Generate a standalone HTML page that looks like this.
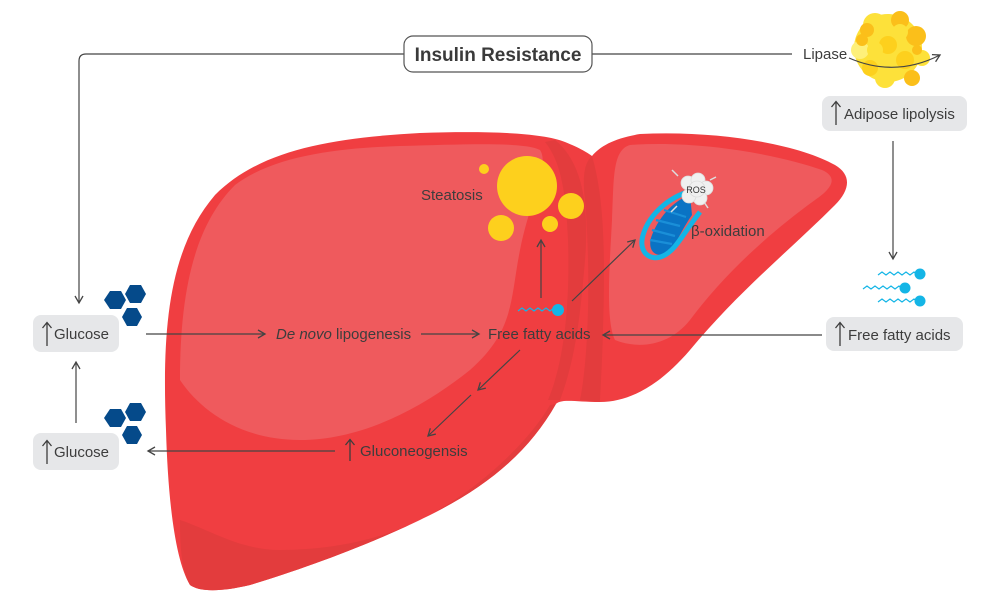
<!DOCTYPE html>
<html><head><meta charset="utf-8"><style>
html,body{margin:0;padding:0;background:#fff;}
svg{display:block;font-family:"Liberation Sans",sans-serif;}
</style></head><body>
<svg width="1000" height="600" viewBox="0 0 1000 600" xmlns="http://www.w3.org/2000/svg">
<defs>
<marker id="a" markerWidth="10" markerHeight="10" refX="8" refY="5" orient="auto" markerUnits="userSpaceOnUse">
<path d="M1,1 L8,5 L1,9" fill="none" stroke="#444" stroke-width="1.3"/></marker>
</defs>
<path d="M190,585 C175,560 168,500 166,430 C162,330 168,250 215,195 C260,150 330,138 420,133 C480,131 540,132 565,142 C580,148 588,153 592,156 C600,146 615,138 640,134 C720,130 800,145 835,165 C852,175 850,190 835,205 C790,250 740,290 690,350 C660,385 630,402 600,402 C575,402 560,398 555,405 C530,450 490,485 430,515 C370,545 300,570 250,585 C220,592 200,592 190,585Z" fill="#f03e41"/>
<path d="M180,520 C210,530 240,550 280,550 C330,550 380,540 420,520 C480,490 530,440 550,405 L556,404 C530,450 490,485 430,515 C370,545 300,570 250,585 C220,592 200,592 190,585 C182,570 180,550 180,520Z" fill="#e33c3d"/>
<path d="M555,140 C580,160 590,200 585,260 C580,320 575,360 560,400 L548,400 C565,360 570,300 568,240 C566,190 560,160 545,142Z" fill="#e33c3d"/>
<path d="M592,156 C605,200 605,260 603,330 C602,370 600,395 600,402 L580,400 C590,350 590,260 585,200 C582,175 585,162 592,156Z" fill="#e33c3d"/>
<path d="M180,380 C180,290 195,225 235,185 C275,155 340,148 400,146 C470,144 525,142 540,150 C550,165 530,200 520,250 C510,300 515,330 470,370 C420,410 360,440 300,440 C240,440 200,410 180,380Z" fill="#ef5a5d"/>
<path d="M630,145 C700,140 780,155 822,170 C840,178 830,190 815,200 C760,240 720,280 690,320 C670,345 640,350 615,340 C605,320 610,260 612,220 C614,180 612,150 630,145Z" fill="#ef5a5d"/>

<circle cx="527" cy="186" r="30" fill="#fdd01d"/>
<circle cx="571" cy="206" r="13" fill="#fdd01d"/>
<circle cx="501" cy="228" r="13" fill="#fdd01d"/>
<circle cx="550" cy="224" r="8" fill="#fdd01d"/>
<circle cx="484" cy="169" r="5" fill="#fdd01d"/>

<path d="M690,195 C675,200 660,215 652,235 C646,250 656,260 668,252 C676,246 680,232 692,215 Z" fill="#0a73c4"/>
<path d="M695,190 C672,195 650,212 643,235 C638,252 650,262 663,256 C676,250 682,235 700,212" fill="none" stroke="#14b5e6" stroke-width="5" stroke-linejoin="round"/>
<g stroke="#1a8fd8" stroke-width="2.2">
<line x1="652" y1="230" x2="675" y2="236"/><line x1="650" y1="240" x2="672" y2="244"/><line x1="656" y1="220" x2="680" y2="226"/><line x1="664" y1="210" x2="686" y2="217"/></g>
<g stroke="#ddd" stroke-width="1.5">
<line x1="672" y1="170" x2="678" y2="176"/><line x1="710" y1="180" x2="716" y2="177"/><line x1="704" y1="202" x2="708" y2="208"/><line x1="677" y1="206" x2="671" y2="212"/></g>
<g fill="#f0f0f0" stroke="#ddd" stroke-width="0.8">
<circle cx="688" cy="183" r="7"/><circle cx="698" cy="180" r="7"/><circle cx="706" cy="188" r="7"/><circle cx="700" cy="198" r="7"/><circle cx="689" cy="196" r="7"/><circle cx="697" cy="189" r="8"/></g>
<text x="696" y="193" font-size="9" fill="#333" text-anchor="middle">ROS</text>

<g>
<circle cx="888" cy="48" r="34" fill="#fde13a"/>
<circle cx="875" cy="25" r="12" fill="#fde13a"/><circle cx="900" cy="20" r="9" fill="#fbbf1a"/><circle cx="916" cy="36" r="10" fill="#fbbf1a"/>
<circle cx="867" cy="30" r="7" fill="#fbbf1a"/><circle cx="860" cy="50" r="9" fill="#fef07a"/><circle cx="888" cy="45" r="9" fill="#fdd01d"/>
<circle cx="905" cy="60" r="9" fill="#fdd01d"/><circle cx="885" cy="78" r="10" fill="#fde13a"/><circle cx="912" cy="78" r="8" fill="#fbbf1a"/>
<circle cx="870" cy="68" r="8" fill="#fdd01d"/><circle cx="922" cy="58" r="8" fill="#fde13a"/><circle cx="900" cy="32" r="8" fill="#fde13a"/>
<circle cx="917" cy="50" r="5" fill="#fbbf1a"/><circle cx="875" cy="50" r="8" fill="#fde13a"/><circle cx="862" cy="40" r="6" fill="#fbbf1a"/>
</g>
<path d="M849,58 Q895,78 940,55" fill="none" stroke="#444" stroke-width="1.2" marker-end="url(#a)"/>

<g fill="none" stroke="#14b5e6" stroke-width="1.2">
<path d="M878,275 l4,-3 l4,3 l4,-3 l4,3 l4,-3 l4,3 l4,-3 l4,3 l4,-3 l4,3"/>
<path d="M863,289 l4,-3 l4,3 l4,-3 l4,3 l4,-3 l4,3 l4,-3 l4,3 l4,-3 l4,3"/>
<path d="M878,302 l4,-3 l4,3 l4,-3 l4,3 l4,-3 l4,3 l4,-3 l4,3 l4,-3 l4,3"/>
<path d="M518,311 l4,-3 l4,3 l4,-3 l4,3 l4,-3 l4,3 l4,-3 l4,3 l4,-3"/>
</g>
<g fill="#14b5e6"><circle cx="920" cy="274" r="5.5"/><circle cx="905" cy="288" r="5.5"/><circle cx="920" cy="301" r="5.5"/><circle cx="558" cy="310" r="6"/></g>

<g fill="#054a8a">
<polygon points="104,300 110,291 121,291 126,300 121,309 110,309"/>
<polygon points="125,294 130,285 141,285 146,294 141,303 130,303"/>
<polygon points="122,317 127,308 137,308 142,317 137,326 127,326"/>
<polygon points="104,418 110,409 121,409 126,418 121,427 110,427"/>
<polygon points="125,412 130,403 141,403 146,412 141,421 130,421"/>
<polygon points="122,435 127,426 137,426 142,435 137,444 127,444"/>
</g>

<g fill="none" stroke="#444" stroke-width="1.2">
<path d="M404,54 H86 Q79,54 79,61 V303" marker-end="url(#a)"/>
<line x1="592" y1="54" x2="792" y2="54"/>
<line x1="893" y1="141" x2="893" y2="259" marker-end="url(#a)"/>
<line x1="146" y1="334" x2="265" y2="334" marker-end="url(#a)"/>
<line x1="421" y1="334" x2="479" y2="334" marker-end="url(#a)"/>
<line x1="822" y1="335" x2="603" y2="335" marker-end="url(#a)"/>
<line x1="541" y1="298" x2="541" y2="240" marker-end="url(#a)"/>
<line x1="572" y1="301" x2="635" y2="240" marker-end="url(#a)"/>
<line x1="520" y1="350" x2="478" y2="390" marker-end="url(#a)"/>
<line x1="471" y1="395" x2="428" y2="436" marker-end="url(#a)"/>
<line x1="335" y1="451" x2="148" y2="451" marker-end="url(#a)"/>
<line x1="76" y1="423" x2="76" y2="362" marker-end="url(#a)"/>
</g>

<rect x="404" y="36" width="188" height="36" rx="9" fill="#fff" stroke="#555" stroke-width="1.2"/>
<text x="498" y="61" font-size="19" font-weight="bold" fill="#3a3a3a" text-anchor="middle">Insulin Resistance</text>
<g fill="#e6e7e9">
<rect x="33" y="315" width="86" height="37" rx="8"/>
<rect x="33" y="433" width="86" height="37" rx="8"/>
<rect x="822" y="96" width="145" height="35" rx="8"/>
<rect x="826" y="317" width="137" height="34" rx="8"/>
</g>
<g fill="none" stroke="#3d3d3d" stroke-width="1.3">
<path d="M47,346 V323 M42.5,328 L47,322.5 L51.5,328"/>
<path d="M47,464 V441 M42.5,446 L47,440.5 L51.5,446"/>
<path d="M836,125 V102 M831.5,107 L836,101.5 L840.5,107"/>
<path d="M840,346 V323 M835.5,328 L840,322.5 L844.5,328"/>
<path d="M350,461 V440 M345.5,445 L350,439.5 L354.5,445"/>
</g>
<g fill="#3d3d3d" font-size="15">
<text x="54" y="339">Glucose</text>
<text x="54" y="457">Glucose</text>
<text x="844" y="119">Adipose lipolysis</text>
<text x="848" y="340">Free fatty acids</text>
<text x="803" y="59">Lipase</text>
<text x="276" y="339"><tspan font-style="italic">De novo</tspan> lipogenesis</text>
<text x="488" y="339">Free fatty acids</text>
<text x="421" y="200">Steatosis</text>
<text x="691" y="236">β-oxidation</text>
<text x="360" y="456">Gluconeogensis</text>
</g>
</svg>
</body></html>
